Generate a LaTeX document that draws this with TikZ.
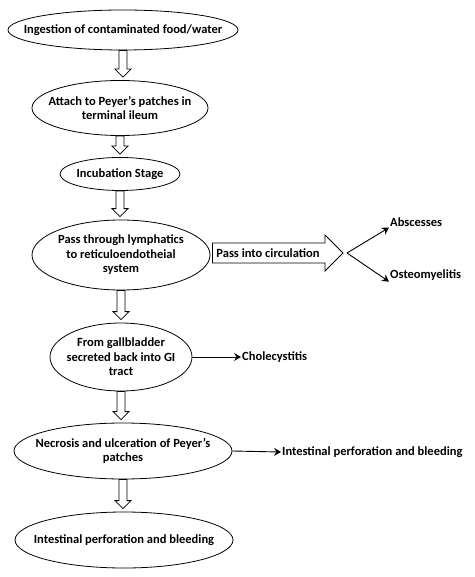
\documentclass[tikz,border=0pt]{standalone}
\usepackage{fontspec}
\setmainfont{Carlito}
\usetikzlibrary{shapes.geometric,arrows.meta,calc}

\tikzset{
  stage/.style={draw, ellipse, line width=0.8pt, inner xsep=-24pt, inner ysep=-16pt, align=center},
  hollow/.style={draw, fill=white, line width=0.8pt},
  pointer/.style={-{Stealth[length=7pt,width=8pt,inset=2.5pt]}, line width=0.9pt},
  sidetext/.style={inner sep=1pt},
}
% hollow block arrow between two stages
\newcommand{\hollowdown}[2]{%
  \draw[hollow] let \p1=(#1.south), \p2=(#2.north) in
    (\x1-4pt,\y1) -- (\x1-4pt,\y2+11pt) -- (\x1-8pt,\y2+11pt) -- (\x1,\y2+3pt)
    -- (\x1+8pt,\y2+11pt) -- (\x1+4pt,\y2+11pt) -- (\x1+4pt,\y1) -- cycle;}

\begin{document}
\begin{tikzpicture}[x=1pt, y=-1pt, font=\fontsize{12.5}{14.5}\selectfont\bfseries]
      \useasboundingbox (0,0) rectangle (474,577);
      \draw
        (123,30) node[stage, minimum width=230pt, minimum height=40pt] (ingest){Ingestion of contaminated food/water}
        (120,108) node[stage, minimum width=176pt, minimum height=55pt] (attach){Attach to Peyer’s patches in\\terminal ileum}
        (120,174) node[stage, minimum width=120pt, minimum height=33pt] (incub){Incubation Stage}
        (121,255) node[stage, minimum width=178pt, minimum height=70pt] (lymph){Pass through lymphatics\\to reticuloendotheial\\system}
        (121,357) node[stage, minimum width=142pt, minimum height=68pt] (gall){From gallbladder\\secreted back into GI\\tract}
        (123,451) node[stage, minimum width=218pt, minimum height=56pt] (necro){Necrosis and ulceration of Peyer’s\\patches}
        (124,540) node[stage, minimum width=218pt, minimum height=56pt] (bleed){Intestinal perforation and bleeding};
      \draw
        (389,222) node[sidetext, anchor=west] (absc){Abscesses}
        (389,275) node[sidetext, anchor=west] (osteo){Osteomyelitis}
        (241,357) node[sidetext, anchor=west] (chole){Cholecystitis}
        (281,452) node[sidetext, anchor=west] (perfo){Intestinal perforation and bleeding};
      \coordinate (split) at (347,253);
      \hollowdown{ingest}{attach}
      \hollowdown{attach}{incub}
      \hollowdown{incub}{lymph}
      \hollowdown{lymph}{gall}
      \hollowdown{gall}{necro}
      \hollowdown{necro}{bleed}
      % wide arrow into circulation
      \draw[hollow] let \p1=(lymph.east), \p2=(split) in
        (\x1+2pt,\y2+10pt) -- (\x2-22pt,\y2+10pt) -- (\x2-22pt,\y2+18pt) -- (\x2-4pt,\y2)
        -- (\x2-22pt,\y2-18pt) -- (\x2-22pt,\y2-10pt) -- (\x1+2pt,\y2-10pt) -- cycle;
      \node[inner sep=0pt] (circ) at (268,253) {Pass into circulation};
      \begin{scope}[pointer]
        \draw (split) to (absc.south west);
        \draw (split) to (osteo.south west);
        \draw (gall.east) to (chole.west);
        \draw (necro.east) to (perfo.west);
      \end{scope}
    \end{tikzpicture}
\end{document}
